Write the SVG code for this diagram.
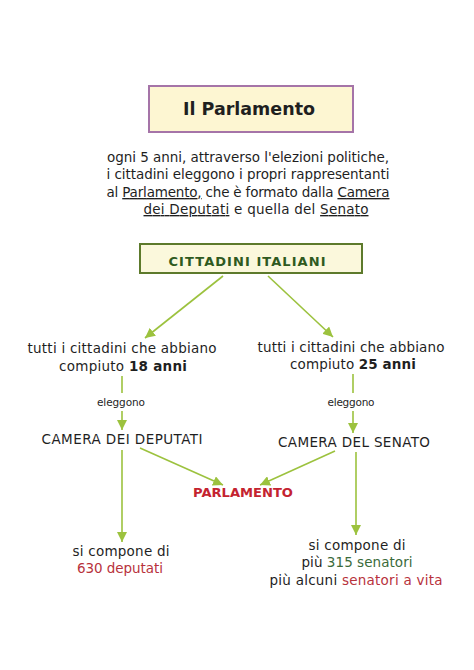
<svg xmlns="http://www.w3.org/2000/svg" width="474" height="670" viewBox="0 0 474 670">
<style>
text{font-family:"DejaVu Sans","Verdana","Liberation Sans",sans-serif;fill:#1f1f1f}
.p{font-size:13.5px}
.b{font-weight:bold}
.u{text-decoration:underline}
.red{fill:#c42330}
.dred{fill:#b8323c}
.grn{fill:#3b6b3b}
.small{font-size:10.5px}
.con{stroke:#9cc23e;stroke-width:1.6;fill:none}
</style>
<defs>
<marker id="ah" markerUnits="userSpaceOnUse" markerWidth="10" markerHeight="10" viewBox="0 0 10 10" refX="10" refY="5" orient="auto">
<path d="M0,0 L10,5 L0,10 Z" fill="#9cc23e"/>
</marker>
</defs>
<rect width="474" height="670" fill="#ffffff"/>

<g id="title">
<rect x="149" y="86" width="204" height="46" fill="#fdf6d2" stroke="#a574a8" stroke-width="2"/>
<text x="249" y="115" text-anchor="middle" font-size="17" class="b" textLength="132" lengthAdjust="spacingAndGlyphs">Il  Parlamento</text>
</g>

<g id="intro">
<text class="p" x="248" y="162" text-anchor="middle" textLength="282" lengthAdjust="spacing">ogni 5 anni, attraverso l'elezioni politiche,</text>
<text class="p" x="248" y="179" text-anchor="middle" textLength="283" lengthAdjust="spacing">i cittadini eleggono i propri rappresentanti</text>
<text class="p" x="248" y="197" text-anchor="middle" textLength="283" lengthAdjust="spacing">al <tspan class="u">Parlamento,</tspan> che è formato dalla <tspan class="u">Camera</tspan></text>
<text class="p" x="256" y="214" text-anchor="middle" textLength="225" lengthAdjust="spacing"><tspan class="u">dei Deputati</tspan> e quella del <tspan class="u">Senato</tspan></text>
</g>

<g id="cittadini">
<rect x="140" y="244" width="222" height="29" fill="#fbf8dc" stroke="#5d7a2c" stroke-width="2"/>
<text x="247" y="266" text-anchor="middle" font-size="13" class="b" style="fill:#2f5a1f" textLength="157" lengthAdjust="spacing">CITTADINI  ITALIANI</text>
</g>

<g id="left18">
<text class="p" x="122" y="353" text-anchor="middle" textLength="189" lengthAdjust="spacing">tutti i cittadini che abbiano</text>
<text class="p" x="123" y="371" text-anchor="middle" textLength="128" lengthAdjust="spacing">compiuto <tspan class="b">18 anni</tspan></text>
</g>

<g id="right25">
<text class="p" x="351" y="352" text-anchor="middle" textLength="187" lengthAdjust="spacing">tutti i cittadini che abbiano</text>
<text class="p" x="353" y="369" text-anchor="middle" textLength="126" lengthAdjust="spacing">compiuto <tspan class="b">25 anni</tspan></text>
</g>

<g id="camera-deputati">
<text class="p" x="122" y="444" text-anchor="middle" textLength="161" lengthAdjust="spacing">CAMERA DEI DEPUTATI</text>
</g>

<g id="camera-senato">
<text class="p" x="354" y="447" text-anchor="middle" textLength="152" lengthAdjust="spacing">CAMERA DEL SENATO</text>
</g>

<g id="parlamento">
<text x="243" y="497" text-anchor="middle" font-size="13" class="b red" textLength="100" lengthAdjust="spacingAndGlyphs">PARLAMENTO</text>
</g>

<g id="deputati630">
<text class="p" x="121" y="556" text-anchor="middle" textLength="97" lengthAdjust="spacing">si compone di</text>
<text class="p dred" x="120" y="573" text-anchor="middle" textLength="86" lengthAdjust="spacing">630 deputati</text>
</g>

<g id="senatori315">
<text class="p" x="357" y="550" text-anchor="middle" textLength="97" lengthAdjust="spacing">si compone di</text>
<text class="p" x="357" y="567" text-anchor="middle" textLength="111" lengthAdjust="spacing">più <tspan class="grn">315 senatori</tspan></text>
<text class="p" x="356" y="585" text-anchor="middle" textLength="173" lengthAdjust="spacing">più alcuni <tspan class="dred">senatori a vita</tspan></text>
</g>

<g id="connectors">
<path class="con" d="M223,276 L145,338" marker-end="url(#ah)"/>
<path class="con" d="M268,276 L333,337" marker-end="url(#ah)"/>
<path class="con" d="M122,376 L122,393"/>
<text class="small" x="121" y="406" text-anchor="middle" textLength="48" lengthAdjust="spacing">eleggono</text>
<path class="con" d="M122,411 L122,430" marker-end="url(#ah)"/>
<path class="con" d="M353,374 L353,393"/>
<text class="small" x="351" y="406" text-anchor="middle" textLength="47" lengthAdjust="spacing">eleggono</text>
<path class="con" d="M353,411 L353,433" marker-end="url(#ah)"/>
<path class="con" d="M122,450 L122,542" marker-end="url(#ah)"/>
<path class="con" d="M356,452 L356,535" marker-end="url(#ah)"/>
<path class="con" d="M140,448 L223,485" marker-end="url(#ah)"/>
<path class="con" d="M335,451 L260,485" marker-end="url(#ah)"/>
</g>
</svg>
